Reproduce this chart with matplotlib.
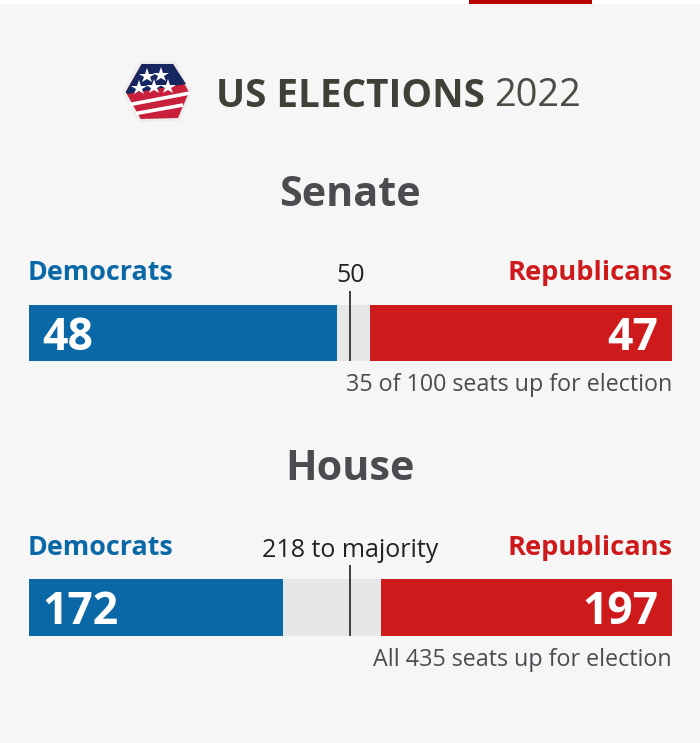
import matplotlib
matplotlib.use('Agg')
import matplotlib.pyplot as plt
from matplotlib.patches import Polygon, Rectangle

plt.rcParams['font.family'] = ['Open Sans', 'DejaVu Sans']

# seats
chambers = ['Senate', 'House']
totals = [100, 435]
dem_seats = [48, 172]
rep_seats = [47, 197]
majority_labels = ['50', '218 to majority']
footnotes = ['35 of 100 seats up for election', 'All 435 seats up for election']

BG = '#f6f6f6'
BLUE = '#0a68a7'
RED = '#cf1a1c'
GREY = '#e5e7e9'
DARK = '#4a4c4f'
W, H = 700, 743

fig = plt.figure(figsize=(7, 7.43), dpi=100, facecolor=BG)

# full figure axes in pixel coords, for text and the logo
page = fig.add_axes([0, 0, 1, 1])
page.set_xlim(0, W)
page.set_ylim(H, 0)
page.axis('off')

page.add_patch(Rectangle((0, 0), W, 4, color='white', lw=0))
page.add_patch(Rectangle((469, 0), 123, 4, color='#b80000', lw=0))

# logo
page.add_patch(Polygon([(140, 61), (175, 61), (192, 92), (180, 121), (139, 122), (122, 92)],
                       closed=True, fc='#ececec', ec='none'))
page.add_patch(Polygon([(141.7, 64), (173, 64), (189, 92), (178, 118), (140.7, 119), (125.7, 92)],
                       closed=True, fc='#c8203a', ec='none'))
page.add_patch(Polygon([(141.7, 64), (173, 64), (186, 84), (127.5, 94), (125.7, 92)],
                       closed=True, fc='#16265f', ec='none'))
page.plot([130, 190], [104.5, 93], color='white', lw=2.6, solid_capstyle='butt')
page.plot([136, 183], [113.5, 105], color='white', lw=2.6, solid_capstyle='butt')
for sx, sy in [(146.7, 76), (160.7, 75), (139, 88), (154, 87), (168, 87)]:
    page.plot(sx, sy, marker='*', ms=11.5, mfc='white', mec='white', mew=0)

page.text(215.5, 92, 'US ELECTIONS', fontsize=27.8, fontweight='bold', color='#3f4037', ha='left', va='center_baseline')
page.text(494, 92, '2022', fontsize=27.3, color='#4b4c44', ha='left', va='center_baseline')

bar_tops = [304.5, 579]
bar_h = 56.5
left, right = 28.5, 672

for i, name in enumerate(chambers):
    top = bar_tops[i]
    ax = fig.add_axes([left / W, 1 - (top + bar_h) / H, (right - left) / W, bar_h / H])
    ax.set_xlim(0, totals[i])
    ax.set_ylim(0, 1)
    ax.axis('off')
    ax.barh(0.5, totals[i], height=1, color=GREY)
    ax.barh(0.5, dem_seats[i], height=1, color=BLUE)
    ax.barh(0.5, rep_seats[i], left=totals[i] - rep_seats[i], height=1, color=RED)

    # heading, party names
    page.text(350, top - 114, name, fontsize=29.7, fontweight='bold', color=DARK, ha='center', va='center_baseline')
    page.text(28, top - 34, 'Democrats', fontsize=19.4, fontweight='bold', color=BLUE, ha='left', va='center_baseline')
    page.text(672, top - 34, 'Republicans', fontsize=19.6, fontweight='bold', color=RED, ha='right', va='center_baseline')

    # seat numbers
    page.text(42, top + 28.5, str(dem_seats[i]), fontsize=32, fontweight='bold', color='white', ha='left', va='center_baseline')
    page.text(658, top + 28.5, str(rep_seats[i]), fontsize=32, fontweight='bold', color='white', ha='right', va='center_baseline')

    # majority marker
    page.plot([350.2, 350.2], [top - 14, top + bar_h], color='#222222', lw=1.2, solid_capstyle='butt', zorder=5)
    page.text(350.5, top - 31.5, majority_labels[i], fontsize=18, color='#222222', ha='center', va='center_baseline')

    page.text(672, top + bar_h + 21, footnotes[i], fontsize=16.75, color=DARK, ha='right', va='center_baseline')

page.set_zorder(3)
page.patch.set_visible(False)

fig.savefig('out.png', dpi=100, facecolor=BG)
